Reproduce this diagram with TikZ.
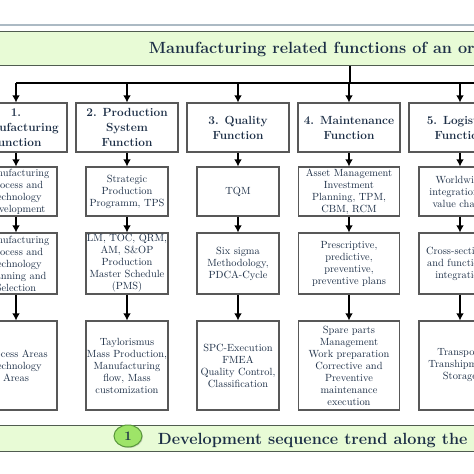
\documentclass[tikz,border=0pt]{standalone}
\usetikzlibrary{arrows.meta,shapes.geometric,shadows}

\definecolor{txtblue}{RGB}{28,46,70}
\definecolor{boxgray}{RGB}{88,88,88}
\definecolor{bandgreen}{RGB}{232,251,214}
\definecolor{bandline}{RGB}{80,92,80}
\definecolor{rulegray}{RGB}{172,186,196}
\definecolor{dotgreen}{RGB}{158,228,104}
\definecolor{dotline}{RGB}{88,150,58}

\begin{document}
\begin{tikzpicture}[x=1pt, y=1pt, >={Latex[length=7pt,width=7.5pt]}, line width=1.1pt]
    \tikzstyle{fn}=[draw=boxgray, line width=1.1pt, fill=white, minimum width=102pt, minimum height=49pt, align=center, text=txtblue, inner sep=1pt, font=\fontsize{11.8}{15}\selectfont\bfseries]
    \tikzstyle{sub}=[draw=boxgray, line width=1.1pt, fill=white, minimum width=82pt, align=center, text=txtblue, inner sep=1pt, font=\fontsize{10.4}{12}\selectfont]
    \tikzstyle{band}=[draw=bandline, line width=1pt, fill=bandgreen]

    \path[use as bounding box, clip] (0,0) rectangle (474,-474);
    \fill[white] (0,0) rectangle (474,-474);

    \draw[rulegray, line width=1.5pt] (-5,-25) -- (480,-25);
    \node[band, minimum width=520pt, minimum height=34pt] (top) at (237,-48) {};
    \node[anchor=west, text=txtblue, font=\fontsize{16.2}{18}\selectfont\bfseries] (title) at (145,-49) {Manufacturing related functions of an organization};

    % function boxes
    \node[fn] (f1) at (16,-127.5) {1.\\ Manufacturing\\ Function};
    \node[fn, right of=f1, node distance=111pt] (f2) {2. Production\\ System\\ Function};
    \node[fn, right of=f2, node distance=111pt] (f3) {3. Quality\\ Function};
    \node[fn, right of=f3, node distance=111pt] (f4) {4. Maintenance\\ Function};
    \node[fn, right of=f4, node distance=111pt] (f5) {5. Logistics\\ Function};

    % second row
    \node[sub, below of=f1, node distance=64pt, minimum height=49pt] (a1) {Manufacturing\\ Process and\\ Technology\\ Development};
    \node[sub, below of=f2, node distance=64pt, minimum height=49pt] (a2) {Strategic\\ Production\\ Programm, TPS};
    \node[sub, below of=f3, node distance=64pt, minimum height=49pt] (a3) {TQM};
    \node[sub, below of=f4, node distance=64pt, minimum height=49pt, minimum width=101pt] (a4) {Asset Management\\ Investment\\ Planning, TPM,\\ CBM, RCM};
    \node[sub, below of=f5, node distance=64pt, minimum height=49pt] (a5) {Worldwide\\ integration of\\ value chains};

    % third row
    \node[sub, below of=a1, node distance=72pt, minimum height=61pt] (b1) {Manufacturing\\ Process and\\ Technology\\ Planning and\\ Selection};
    \node[sub, below of=a2, node distance=72pt, minimum height=61pt] (b2) {LM, TOC, QRM,\\ AM, S\&OP\\ Production\\ Master Schedule\\ (PMS)};
    \node[sub, below of=a3, node distance=72pt, minimum height=61pt] (b3) {Six sigma\\ Methodology,\\ PDCA-Cycle};
    \node[sub, below of=a4, node distance=72pt, minimum height=61pt, minimum width=101pt] (b4) {Prescriptive,\\ predictive,\\ preventive,\\ preventive plans};
    \node[sub, below of=a5, node distance=72pt, minimum height=61pt] (b5) {Cross-sectional\\ and functional\\ integration};

    % fourth row
    \node[sub, below of=b1, node distance=102pt, minimum height=89pt] (c1) {Process Areas\\ Technology\\ Areas};
    \node[sub, below of=b2, node distance=102pt, minimum height=89pt] (c2) {Taylorismus\\ Mass Production,\\ Manufacturing\\ flow, Mass\\ customization};
    \node[sub, below of=b3, node distance=102pt, minimum height=89pt] (c3) {SPC-Execution\\ FMEA\\ Quality Control,\\ Classification};
    \node[sub, below of=b4, node distance=102pt, minimum height=89pt, minimum width=101pt] (c4) {Spare parts\\ Management\\ Work preparation\\ Corrective and\\ Preventive\\ maintenance\\ execution};
    \node[sub, below of=b5, node distance=102pt, minimum height=89pt] (c5) {Transport\\ Transhipment\\ Storage};

    \coordinate (hub) at (350,-83);
    \coordinate (tail) at (490,-83);
    \draw (top.south -| hub) -- (hub);
    \draw (f1 |- hub) -- (tail);
    \foreach \c in {1,...,5} {
      \draw[->] (f\c |- hub) -- (f\c);
      \draw[->] (f\c) -- (a\c);
      \draw[->] (a\c) -- (b\c);
      \draw[->] (b\c) -- (c\c);
    }

    \node[band, minimum width=520pt, minimum height=26pt] (bottom) at (237,-438) {};
    \node[ellipse, draw=dotline, line width=1pt, fill=dotgreen, minimum width=28pt, minimum height=22pt, inner sep=0pt, text=txtblue, font=\fontsize{13}{15}\selectfont\bfseries, drop shadow={shadow xshift=1pt, shadow yshift=-1pt, opacity=0.3}] (one) at (128,-436) {1};
    \node[anchor=base west, text=txtblue, font=\fontsize{16.2}{20}\selectfont\bfseries] (trend) at (154,-444) {Development sequence trend along the lifecycle};
  \end{tikzpicture}
\end{document}
